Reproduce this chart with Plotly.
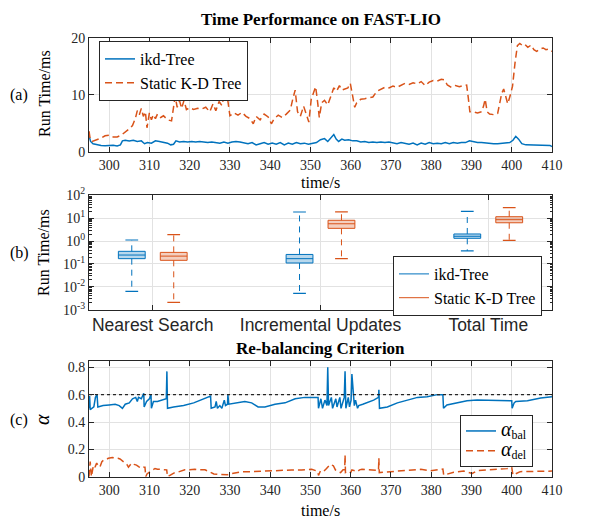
"""Time performance of ikd-Tree vs static K-D tree on FAST-LIO (three panels)."""

import plotly.graph_objects as go

# ---------------------------------------------------------------- data
# (a) run time per scan, ms
T_IKD = [295.0, 295.4, 296.0, 297.0, 298.0, 299.0, 300.0, 301.0, 302.0, 302.8,
         303.3, 304.0, 305.0, 306.0, 307.0, 308.0, 308.8, 309.5, 310.5, 311.5,
         312.5, 313.5, 314.5, 315.3, 316.0, 316.6, 317.5, 318.5, 319.5, 320.5,
         321.5, 322.5, 323.5, 324.5, 325.5, 326.5, 327.5, 328.5, 329.5, 330.5,
         331.5, 332.5, 333.5, 334.5, 335.5, 336.5, 337.5, 338.5, 339.5, 340.5,
         341.5, 342.5, 343.5, 344.5, 345.5, 346.5, 347.5, 348.5, 349.5, 350.5,
         351.5, 352.5, 353.5, 354.3, 355.0, 355.8, 356.4, 357.0, 357.8, 358.5,
         359.5, 360.5, 361.5, 362.5, 363.5, 364.5, 365.5, 366.5, 367.5, 368.5,
         369.5, 370.5, 371.5, 372.5, 373.5, 374.5, 375.5, 376.5, 377.5, 378.5,
         379.5, 380.5, 381.5, 382.5, 383.5, 384.5, 385.5, 386.5, 387.5, 388.5,
         389.5, 390.5, 391.5, 392.5, 393.5, 394.5, 395.5, 396.5, 397.5, 398.5,
         399.5, 400.3, 401.0, 401.7, 402.5, 403.5, 404.5, 405.5, 406.5, 407.5,
         408.5, 409.5, 410.0]
IKD_MS = [2.8, 1.8, 1.4, 1.2, 1.1, 1.05, 1.1, 1.15, 1.0, 1.2,
          1.9, 2.0, 1.9, 2.0, 1.8, 1.9, 1.4, 1.6, 1.5, 1.9,
          1.8, 1.7, 1.5, 1.2, 1.3, 1.9, 1.7, 1.8, 1.7, 1.8,
          1.7, 1.8, 1.7, 1.6, 1.7, 1.6, 1.5, 1.7, 1.5, 1.7,
          1.8, 1.7, 1.6, 1.4, 1.6, 1.2, 1.4, 1.6, 1.3, 1.5,
          1.3, 1.6, 1.2, 1.5, 1.3, 1.6, 1.4, 1.5, 1.3, 1.5,
          1.6, 2.1, 2.3, 1.8, 2.4, 3.0, 2.2, 1.8, 2.2, 2.0,
          2.1, 1.9, 1.9, 1.7, 1.8, 1.6, 1.7, 1.6, 1.7, 1.6,
          1.7, 1.6, 1.4, 1.6, 1.5, 1.3, 1.5, 1.2, 1.5, 1.3,
          1.6, 1.4, 1.5, 1.4, 1.6, 1.4, 1.6, 1.5, 1.6, 1.6,
          1.9, 1.7, 1.6, 1.6, 1.5, 1.5, 1.4, 1.4, 1.5, 1.5,
          1.6, 2.0, 2.7, 2.2, 1.4, 1.2, 1.2, 1.2, 1.2, 1.2,
          1.1, 1.1, 0.9]

T_STATIC = [295.0, 295.3, 295.8, 297.0, 298.0, 299.0, 300.0, 301.0, 302.0, 303.0,
            304.0, 305.0, 305.8, 306.5, 307.0, 307.5, 308.0, 308.5, 309.0, 309.4,
            310.0, 310.5, 311.0, 311.5, 312.0, 312.8, 313.5, 314.5, 315.5, 315.9,
            316.4, 316.9, 317.5, 318.0, 318.6, 319.2, 320.0, 321.0, 322.0, 323.0,
            324.0, 325.0, 325.8, 326.5, 327.3, 328.0, 328.8, 329.4, 330.0, 331.0,
            332.0, 333.0, 334.0, 335.0, 335.8, 336.5, 337.5, 338.5, 339.5, 340.3,
            341.0, 342.0, 343.0, 344.0, 345.0, 345.6, 346.2, 346.8, 347.5, 348.3,
            349.0, 349.6, 350.2, 350.8, 351.3, 351.8, 352.2, 352.8, 353.5, 354.3,
            355.0, 355.8, 356.5, 357.2, 357.8, 358.5, 359.3, 359.9, 360.5, 361.0,
            361.5, 362.5, 363.5, 364.5, 365.5, 366.5, 367.5, 368.5, 369.5, 370.5,
            371.5, 372.5, 373.5, 374.5, 375.5, 376.5, 377.5, 378.5, 379.5, 380.5,
            381.5, 382.5, 383.3, 384.0, 385.0, 386.0, 387.0, 388.0, 388.8, 389.2,
            389.6, 390.5, 391.5, 392.5, 393.0, 393.4, 393.9, 394.5, 395.5, 396.5,
            397.0, 397.5, 398.0, 398.5, 399.0, 399.6, 400.2, 400.8, 401.4, 402.0,
            402.7, 403.3, 404.0, 404.8, 405.5, 406.2, 407.0, 407.8, 408.5, 409.3,
            410.0]
STATIC_MS = [3.6, 2.2, 1.8, 2.1, 2.4, 2.8, 2.9, 2.6, 2.6, 2.9,
             3.4, 4.0, 4.6, 5.8, 7.2, 6.5, 7.6, 6.2, 7.0, 4.2,
             6.8, 5.6, 6.5, 5.8, 6.6, 6.0, 6.3, 5.6, 5.4, 7.6,
             9.7, 7.8, 8.9, 7.6, 9.0, 7.4, 7.7, 7.4, 7.6, 7.5,
             7.8, 7.0, 8.4, 7.2, 8.8, 8.1, 10.8, 9.4, 6.3, 6.8,
             6.4, 6.9, 6.2, 5.8, 4.9, 6.2, 5.6, 6.6, 6.1, 4.9,
             5.8, 6.4, 6.0, 6.6, 7.3, 9.2, 10.8, 7.0, 6.2, 8.0,
             6.3, 5.2, 9.2, 10.6, 11.4, 8.6, 6.0, 8.6, 9.0, 8.2,
             9.6, 11.2, 10.6, 11.6, 10.8, 11.0, 11.2, 12.0, 10.0, 7.8,
             8.6, 9.2, 9.3, 9.4, 9.6, 10.6, 11.0, 11.3, 11.2, 11.5,
             11.3, 11.7, 12.0, 11.8, 12.1, 11.9, 12.3, 11.6, 12.2, 12.5,
             12.4, 12.7, 12.6, 11.7, 11.3, 11.6, 11.4, 11.6, 11.7, 9.5,
             7.0, 7.0, 6.8, 7.0, 8.0, 9.2, 7.0, 6.6, 6.5, 6.7,
             8.4, 10.2, 11.0, 9.6, 8.4, 9.8, 11.5, 15.5, 18.6, 19.0,
             18.6, 18.8, 18.3, 18.7, 17.9, 17.6, 18.0, 18.2, 17.9, 18.0,
             17.6]

# (b) box statistics, ms
CATEGORIES = ["Nearest Search", "Incremental Updates", "Total Time"]
IKD_LOWER = [0.0063, 0.0052, 0.37]
IKD_Q1 = [0.17, 0.11, 1.32]
IKD_MEDIAN = [0.245, 0.17, 1.62]
IKD_Q3 = [0.356, 0.26, 2.04]
IKD_UPPER = [1.11, 18.6, 20.0]
STATIC_LOWER = [0.0021, 0.17, 1.08]
STATIC_Q1 = [0.144, 3.6, 6.3]
STATIC_MEDIAN = [0.22, 5.7, 8.6]
STATIC_Q3 = [0.32, 8.1, 11.6]
STATIC_UPPER = [1.9, 19.0, 29.0]
LOG_TICKS = [1e-3, 1e-2, 1e-1, 1e0, 1e1, 1e2]
LOG_TICK_TEXT = ["10<sup>-3</sup>", "10<sup>-2</sup>", "10<sup>-1</sup>",
                 "10<sup>0</sup>", "10<sup>1</sup>", "10<sup>2</sup>"]

# (c) re-balancing criterion
T_BAL = [295.0, 295.15, 295.3, 296.2, 296.6, 297.0, 297.2, 298.5, 300.0, 301.5,
         302.5, 303.3, 304.0, 305.0, 305.8, 306.6, 307.0, 307.3, 308.0, 308.6,
         308.7, 309.3, 310.0, 310.4, 310.5, 311.0, 312.0, 313.0, 314.2, 314.35,
         314.5, 316.0, 318.5, 321.0, 323.5, 325.2, 325.35, 326.3, 326.6, 326.9,
         327.5, 328.0, 328.6, 328.9, 329.4, 329.5, 329.7, 331.3, 333.7, 335.4,
         337.0, 338.7, 341.2, 343.7, 346.2, 348.6, 351.1, 351.9, 352.0, 352.6,
         353.0, 353.6, 354.1, 354.3, 354.5, 355.2, 355.5, 356.3, 356.6, 357.3,
         357.6, 358.4, 358.6, 358.8, 359.4, 359.7, 360.1, 360.3, 360.9, 361.2,
         361.7, 362.0, 363.0, 364.1, 365.7, 366.9, 367.0, 367.15, 369.1, 371.6,
         374.1, 376.6, 379.0, 381.5, 382.9, 383.05, 383.9, 386.4, 388.9, 391.4,
         393.8, 397.2, 400.0, 400.1, 400.6, 401.0, 403.9, 407.2, 410.0]
ALPHA_BAL = [0.50, 0.59, 0.49, 0.51, 0.58, 0.60, 0.51, 0.52, 0.525, 0.53,
             0.52, 0.50, 0.53, 0.54, 0.57, 0.58, 0.55, 0.58, 0.57, 0.61,
             0.51, 0.55, 0.57, 0.60, 0.50, 0.55, 0.55, 0.56, 0.57, 0.77,
             0.50, 0.51, 0.52, 0.54, 0.57, 0.59, 0.50, 0.51, 0.55, 0.50,
             0.52, 0.50, 0.56, 0.52, 0.53, 0.60, 0.53, 0.54, 0.55, 0.54,
             0.51, 0.51, 0.53, 0.54, 0.57, 0.58, 0.58, 0.58, 0.50, 0.57,
             0.50, 0.56, 0.52, 0.80, 0.52, 0.58, 0.50, 0.57, 0.51, 0.58,
             0.50, 0.58, 0.77, 0.50, 0.58, 0.51, 0.56, 0.75, 0.52, 0.56,
             0.50, 0.52, 0.53, 0.54, 0.56, 0.58, 0.635, 0.50, 0.51, 0.54,
             0.56, 0.58, 0.585, 0.60, 0.60, 0.50, 0.525, 0.54, 0.555, 0.56,
             0.56, 0.56, 0.555, 0.50, 0.54, 0.55, 0.555, 0.575, 0.585]

T_DEL = [295.0, 295.1, 295.3, 295.6, 295.8, 296.1, 296.5, 296.9, 297.3, 297.7,
         298.2, 298.6, 299.2, 299.8, 300.8, 301.5, 302.2, 302.7, 303.3, 303.9,
         304.4, 304.8, 305.2, 305.6, 306.2, 306.8, 307.5, 308.1, 308.6, 308.9,
         309.1, 309.4, 310.1, 310.8, 311.4, 312.0, 312.6, 313.5, 314.3, 314.5,
         315.0, 315.5, 316.3, 317.2, 318.0, 318.8, 320.0, 321.3, 322.5, 323.8,
         324.6, 325.3, 326.0, 327.1, 328.0, 328.8, 329.4, 330.0, 331.0, 332.9,
         335.4, 337.9, 340.4, 342.8, 345.3, 347.8, 350.3, 351.8, 352.0, 352.4,
         353.0, 354.0, 354.5, 354.9, 355.7, 356.2, 356.9, 357.5, 358.1, 358.5,
         358.6, 358.7, 359.3, 360.0, 360.3, 361.0, 361.6, 362.2, 362.8, 364.5,
         366.2, 366.9, 367.0, 367.1, 369.9, 372.4, 374.9, 377.4, 379.8, 382.3,
         382.9, 383.1, 385.6, 388.1, 389.5, 390.2, 391.4, 393.8, 396.3, 398.8,
         400.0, 400.3, 402.1, 405.4, 410.0]
ALPHA_DEL = [0.0, 0.09, 0.11, 0.0, 0.03, 0.085, 0.07, 0.10, 0.08, 0.07,
             0.11, 0.12, 0.125, 0.135, 0.14, 0.14, 0.135, 0.13, 0.115, 0.10,
             0.09, 0.07, 0.09, 0.10, 0.09, 0.085, 0.07, 0.06, 0.07, 0.07,
             0.0, 0.02, 0.035, 0.05, 0.06, 0.055, 0.054, 0.052, 0.05, 0.0,
             0.01, 0.015, 0.03, 0.035, 0.045, 0.05, 0.05, 0.054, 0.05, 0.05,
             0.04, 0.03, 0.02, 0.017, 0.015, 0.012, 0.015, 0.02, 0.027, 0.037,
             0.037, 0.041, 0.044, 0.044, 0.049, 0.049, 0.054, 0.04, 0.01, 0.037,
             0.03, 0.06, 0.08, 0.09, 0.08, 0.05, 0.037, 0.03, 0.05, 0.05,
             0.16, 0.03, 0.04, 0.03, 0.05, 0.04, 0.037, 0.05, 0.054, 0.05,
             0.044, 0.045, 0.135, 0.03, 0.037, 0.041, 0.049, 0.054, 0.044, 0.056,
             0.056, 0.012, 0.032, 0.041, 0.03, 0.024, 0.044, 0.049, 0.054, 0.059,
             0.068, 0.012, 0.037, 0.037, 0.041]
ALPHA_BAL_THRESHOLD = 0.6

# ---------------------------------------------------------------- style
# the page body has an 8px margin, so the figure is drawn 8px in from the corner
WIN_W, WIN_H, BODY = 591, 527, 8
W, H = WIN_W - BODY, WIN_H - BODY
SERIF = "Times New Roman, Liberation Serif, serif"
SANS = "Arial, Liberation Sans, sans-serif"
BLUE = "#0072BD"
ORANGE = "#D95319"
AXIS = "#262626"
GRID = "#e2e2e2"
DASH = "7px,4px"


def px_x(p):
    # window pixel -> paper fraction
    return (p - BODY) / W


def px_y(p):
    return 1 - (p - BODY) / H


def base_axis(**kw):
    ax = dict(showline=True, linecolor=AXIS, linewidth=1, mirror="ticks",
              ticks="inside", ticklen=5, tickcolor=AXIS, tickwidth=1,
              showgrid=True, gridcolor=GRID, gridwidth=1, zeroline=False,
              tickfont=dict(family=SERIF, size=14, color=AXIS))
    ax.update(kw)
    return ax


def alpha_name(sub):
    # large italic alpha with an upright subscript, as in the MATLAB legend
    return ('<span style="font-size:20px"><i>α</i></span>'
            '<sub><span style="font-size:12px">%s</span></sub>' % sub)


X_DOMAIN = [px_x(89), px_x(552)]

fig = go.Figure()

# (a) time series
fig.add_trace(go.Scatter(x=T_IKD, y=IKD_MS, mode="lines", name="ikd-Tree",
                         line=dict(color=BLUE, width=1.5),
                         xaxis="x", yaxis="y", legend="legend"))
fig.add_trace(go.Scatter(x=T_STATIC, y=STATIC_MS, mode="lines", name="Static K-D Tree",
                         line=dict(color=ORANGE, width=1.5, dash=DASH),
                         xaxis="x", yaxis="y", legend="legend"))

# (b) box plots, ikd left of the category, static right of it
OFFSET, BOX_W, CAP = 0.125, 0.16, 0.038
groups = [
    (BLUE, "rgba(0,114,189,0.28)", -OFFSET, IKD_LOWER, IKD_Q1, IKD_MEDIAN, IKD_Q3, IKD_UPPER),
    (ORANGE, "rgba(217,83,25,0.28)", OFFSET, STATIC_LOWER, STATIC_Q1, STATIC_MEDIAN, STATIC_Q3, STATIC_UPPER),
]
for color, fill, off, lo, q1, med, q3, hi in groups:
    pos = [i + 1 + off for i in range(len(CATEGORIES))]
    fig.add_trace(go.Box(x=pos, q1=q1, median=med, q3=q3, lowerfence=q1, upperfence=q3,
                         width=BOX_W, whiskerwidth=0, boxpoints=False,
                         fillcolor=fill, line=dict(color=color, width=1),
                         showlegend=False, xaxis="x2", yaxis="y2"))
    wx, wy, cx, cy = [], [], [], []
    for p, a, b, c, d in zip(pos, lo, q1, q3, hi):
        wx += [p, p, None, p, p, None]
        wy += [c, d, None, b, a, None]
        cx += [p - CAP, p + CAP, None, p - CAP, p + CAP, None]
        cy += [d, d, None, a, a, None]
    fig.add_trace(go.Scatter(x=wx, y=wy, mode="lines", showlegend=False,
                             line=dict(color=color, width=1, dash="6px,5px"),
                             xaxis="x2", yaxis="y2"))
    fig.add_trace(go.Scatter(x=cx, y=cy, mode="lines", showlegend=False,
                             line=dict(color=color, width=1.2),
                             xaxis="x2", yaxis="y2"))

# legend entries for (b)
for name, color in [("ikd-Tree", BLUE), ("Static K-D Tree", ORANGE)]:
    fig.add_trace(go.Scatter(x=[None], y=[None], mode="lines", name=name,
                             line=dict(color=color, width=1),
                             xaxis="x2", yaxis="y2", legend="legend2"))

# (c) alpha
fig.add_trace(go.Scatter(x=T_BAL, y=ALPHA_BAL, mode="lines", name=alpha_name("bal"),
                         line=dict(color=BLUE, width=1.5),
                         xaxis="x3", yaxis="y3", legend="legend3"))
fig.add_trace(go.Scatter(x=T_DEL, y=ALPHA_DEL, mode="lines", name=alpha_name("del"),
                         line=dict(color=ORANGE, width=1.5, dash=DASH),
                         xaxis="x3", yaxis="y3", legend="legend3"))
fig.add_shape(type="line", xref="x3 domain", yref="y3", x0=0, x1=1,
              y0=ALPHA_BAL_THRESHOLD, y1=ALPHA_BAL_THRESHOLD,
              line=dict(color=AXIS, width=1.2, dash="dot"))

minor_log = [k * 10 ** p for p in range(-3, 2) for k in range(2, 10)]

legend_common = dict(xanchor="left", yanchor="top", bgcolor="white",
                     bordercolor=AXIS, borderwidth=1, tracegroupgap=0)

fig.update_layout(
    width=W, height=H,
    margin=dict(l=0, r=0, t=0, b=0),
    template="none",
    paper_bgcolor="white",
    plot_bgcolor="white",
    boxmode="overlay",
    xaxis=base_axis(domain=X_DOMAIN, range=[295, 410], tick0=300, dtick=10, anchor="y"),
    yaxis=base_axis(domain=[px_y(151.7), px_y(37.7)], range=[0, 20], dtick=10, anchor="x"),
    xaxis2=base_axis(domain=X_DOMAIN, range=[0.62, 3.38], tickvals=[1, 2, 3],
                     ticktext=CATEGORIES, anchor="y2", ticklabelstandoff=-1,
                     tickfont=dict(family=SANS, size=17.5, color=AXIS)),
    yaxis2=base_axis(domain=[px_y(309.7), px_y(195.3)], type="log", range=[-3, 2],
                     tickvals=LOG_TICKS, ticktext=LOG_TICK_TEXT, anchor="x2",
                     minor=dict(tickvals=minor_log, ticks="inside", ticklen=2.5,
                                tickcolor=AXIS, showgrid=False)),
    xaxis3=base_axis(domain=X_DOMAIN, range=[295, 410], tick0=300, dtick=10, anchor="y3"),
    yaxis3=base_axis(domain=[px_y(476.7), px_y(361)], range=[0, 0.846], dtick=0.2, anchor="x3"),
    legend=dict(x=px_x(99), y=px_y(41), font=dict(family=SERIF, size=16, color="black"),
                **legend_common),
    legend2=dict(x=px_x(393), y=px_y(256), font=dict(family=SERIF, size=16, color="black"),
                 **legend_common),
    legend3=dict(x=px_x(460), y=px_y(415), font=dict(family=SERIF, size=13, color="black"),
                 **legend_common),
)

# (text, window x, window y, size, angle, x anchor)
notes = [
    ("<b>Time Performance on FAST-LIO</b>", 320.5, 20, 17, 0, "center"),
    ("time/s", 320.5, 183, 16, 0, "center"),
    ("Run Time/ms", 45, 94, 16, -90, "center"),
    ("(a)", BODY, 95, 16, 0, "left"),
    ("Run Time/ms", 43, 253, 16, -90, "center"),
    ("(b)", BODY, 253, 16, 0, "left"),
    ("<b>Re-balancing Criterion</b>", 320.5, 348, 17, 0, "center"),
    ("<i>α</i>", 42, 420, 20, -90, "center"),
    ("(c)", BODY, 420, 16, 0, "left"),
    ("time/s", 320.5, 510, 16, 0, "center"),
]
for text, x, y, size, angle, anchor in notes:
    fig.add_annotation(text=text, x=px_x(x), y=px_y(y), xref="paper", yref="paper",
                       showarrow=False, textangle=angle, xanchor=anchor, yanchor="middle",
                       font=dict(family=SERIF, size=size, color="black"))

fig.write_html("out.html")
